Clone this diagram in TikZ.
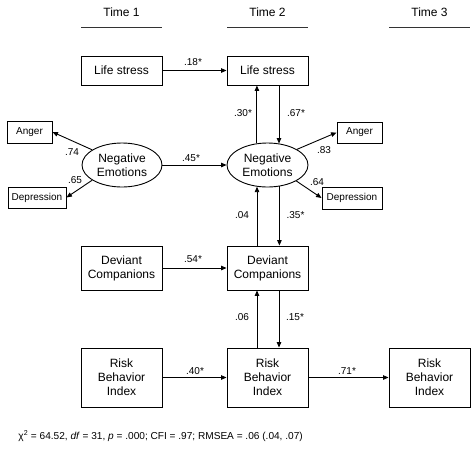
\documentclass[tikz,border=0pt]{standalone}
\usepackage{fontspec}
\setmainfont{Liberation Sans}
\usetikzlibrary{arrows.meta,shapes.geometric}
\begin{document}
\begin{tikzpicture}[x=1pt,y=-1pt,
  line width=0.9pt,
  box/.style={draw,rectangle,inner sep=0pt,align=center,font=\fontsize{12}{14}\selectfont},
  small/.style={draw,rectangle,inner sep=0pt,align=center,font=\fontsize{10}{12}\selectfont},
  ell/.style={draw,ellipse,inner sep=0pt,align=center,font=\fontsize{12}{13.5}\selectfont},
  lab/.style={font=\fontsize{10}{12}\selectfont,inner sep=0pt},
  hdr/.style={font=\fontsize{12}{14}\selectfont,inner sep=0pt},
  arr/.style={-{Triangle[length=5.5pt,width=4.5pt]}}]
\useasboundingbox (0,0) rectangle (474,459);
% headers
\node[hdr] (t1) at (121.5,12) {Time 1};
\node[hdr] (t2) at (267.5,12) {Time 2};
\node[hdr] (t3) at (429.5,12) {Time 3};
\coordinate (u1a) at (81,27); \coordinate (u1b) at (162,27);
\coordinate (u2a) at (227,27); \coordinate (u2b) at (308,27);
\coordinate (u3a) at (389,27); \coordinate (u3b) at (470,27);
\draw[black!80] (u1a) -- (u1b);
\draw[black!80] (u2a) -- (u2b);
\draw[black!80] (u3a) -- (u3b);
% nodes
\node[box,minimum width=81pt,minimum height=29pt] (ls1) at (121.5,70.5) {Life stress};
\node[box,minimum width=81pt,minimum height=29pt] (ls2) at (267.5,70.5) {Life stress};
\node[ell,minimum width=80pt,minimum height=44pt] (ne1) at (122,165) {Negative\\Emotions};
\node[ell,minimum width=81pt,minimum height=44pt] (ne2) at (267.5,165) {Negative\\Emotions};
\node[small,minimum width=45pt,minimum height=22pt] (an1) at (29.5,132) {Anger};
\node[small,minimum width=58pt,minimum height=21pt] (de1) at (37,197.5) {Depression};
\node[small,minimum width=45pt,minimum height=21pt] (an2) at (359.5,132.5) {Anger};
\node[small,minimum width=60pt,minimum height=22pt] (de2) at (352,198) {Depression};
\node[box,minimum width=81pt,minimum height=44pt] (dc1) at (121.5,268) {Deviant\\Companions};
\node[box,minimum width=81pt,minimum height=44pt] (dc2) at (267.5,268) {Deviant\\Companions};
\node[box,minimum width=81pt,minimum height=59pt] (rb1) at (121.5,377.5) {Risk\\Behavior\\Index};
\node[box,minimum width=81pt,minimum height=59pt] (rb2) at (267.5,377.5) {Risk\\Behavior\\Index};
\node[box,minimum width=81pt,minimum height=59pt] (rb3) at (429.5,377.5) {Risk\\Behavior\\Index};
% horizontal paths
\draw[arr] (ls1) -- (ls2);
\draw[arr] (ne1) -- (ne2);
\draw[arr] (dc1) -- (dc2);
\draw[arr] (rb1) -- (rb2);
\draw[arr] (rb2) -- (rb3);
\node[lab] at (193,62.5) {.18*};
\node[lab] at (191,158.5) {.45*};
\node[lab] at (193,259.5) {.54*};
\node[lab] at (195,371.5) {.40*};
\node[lab] at (347,371.5) {.71*};
% measurement arrows
\draw[arr] (ne1.153) -- (an1.east);
\draw[arr] (ne1.207) -- (de1.east);
\draw[arr] (ne2.28) -- (an2.west);
\draw[arr] (ne2.331) -- (de2.west);
\node[lab] at (72,152) {.74};
\node[lab] at (75,180.5) {.65};
\node[lab] at (324,150) {.83};
\node[lab] at (317,182) {.64};
% vertical paths
\draw[arr] (ne2.116) -- (ne2.116 |- ls2.south);
\draw[arr] ([xshift=11.5pt]ls2.south) -- ([xshift=11.5pt]ls2.south |- ne2.61);
\draw[arr] ([xshift=-10.5pt]dc2.north) -- ([xshift=-10.5pt]dc2.north |- ne2.244);
\draw[arr] (ne2.299) -- (ne2.299 |- dc2.north);
\draw[arr] ([xshift=-10.5pt]rb2.north) -- ([xshift=-10.5pt]rb2.north |- dc2.south);
\draw[arr] ([xshift=11.5pt]dc2.south) -- ([xshift=11.5pt]dc2.south |- rb2.north);
\node[lab] at (243,113) {.30*};
\node[lab] at (296,113) {.67*};
\node[lab] at (242,215.5) {.04};
\node[lab] at (295.5,215.5) {.35*};
\node[lab] at (242,317) {.06};
\node[lab] at (295,317) {.15*};
% fit statistics
\node[font=\fontsize{10.1}{12}\selectfont,inner sep=0pt,anchor=west] (fit) at (18,436)
  {χ\textsuperscript{2} = 64.52, \textit{df} = 31, \textit{p} = .000; CFI = .97; RMSEA = .06 (.04, .07)};
\end{tikzpicture}
\end{document}
